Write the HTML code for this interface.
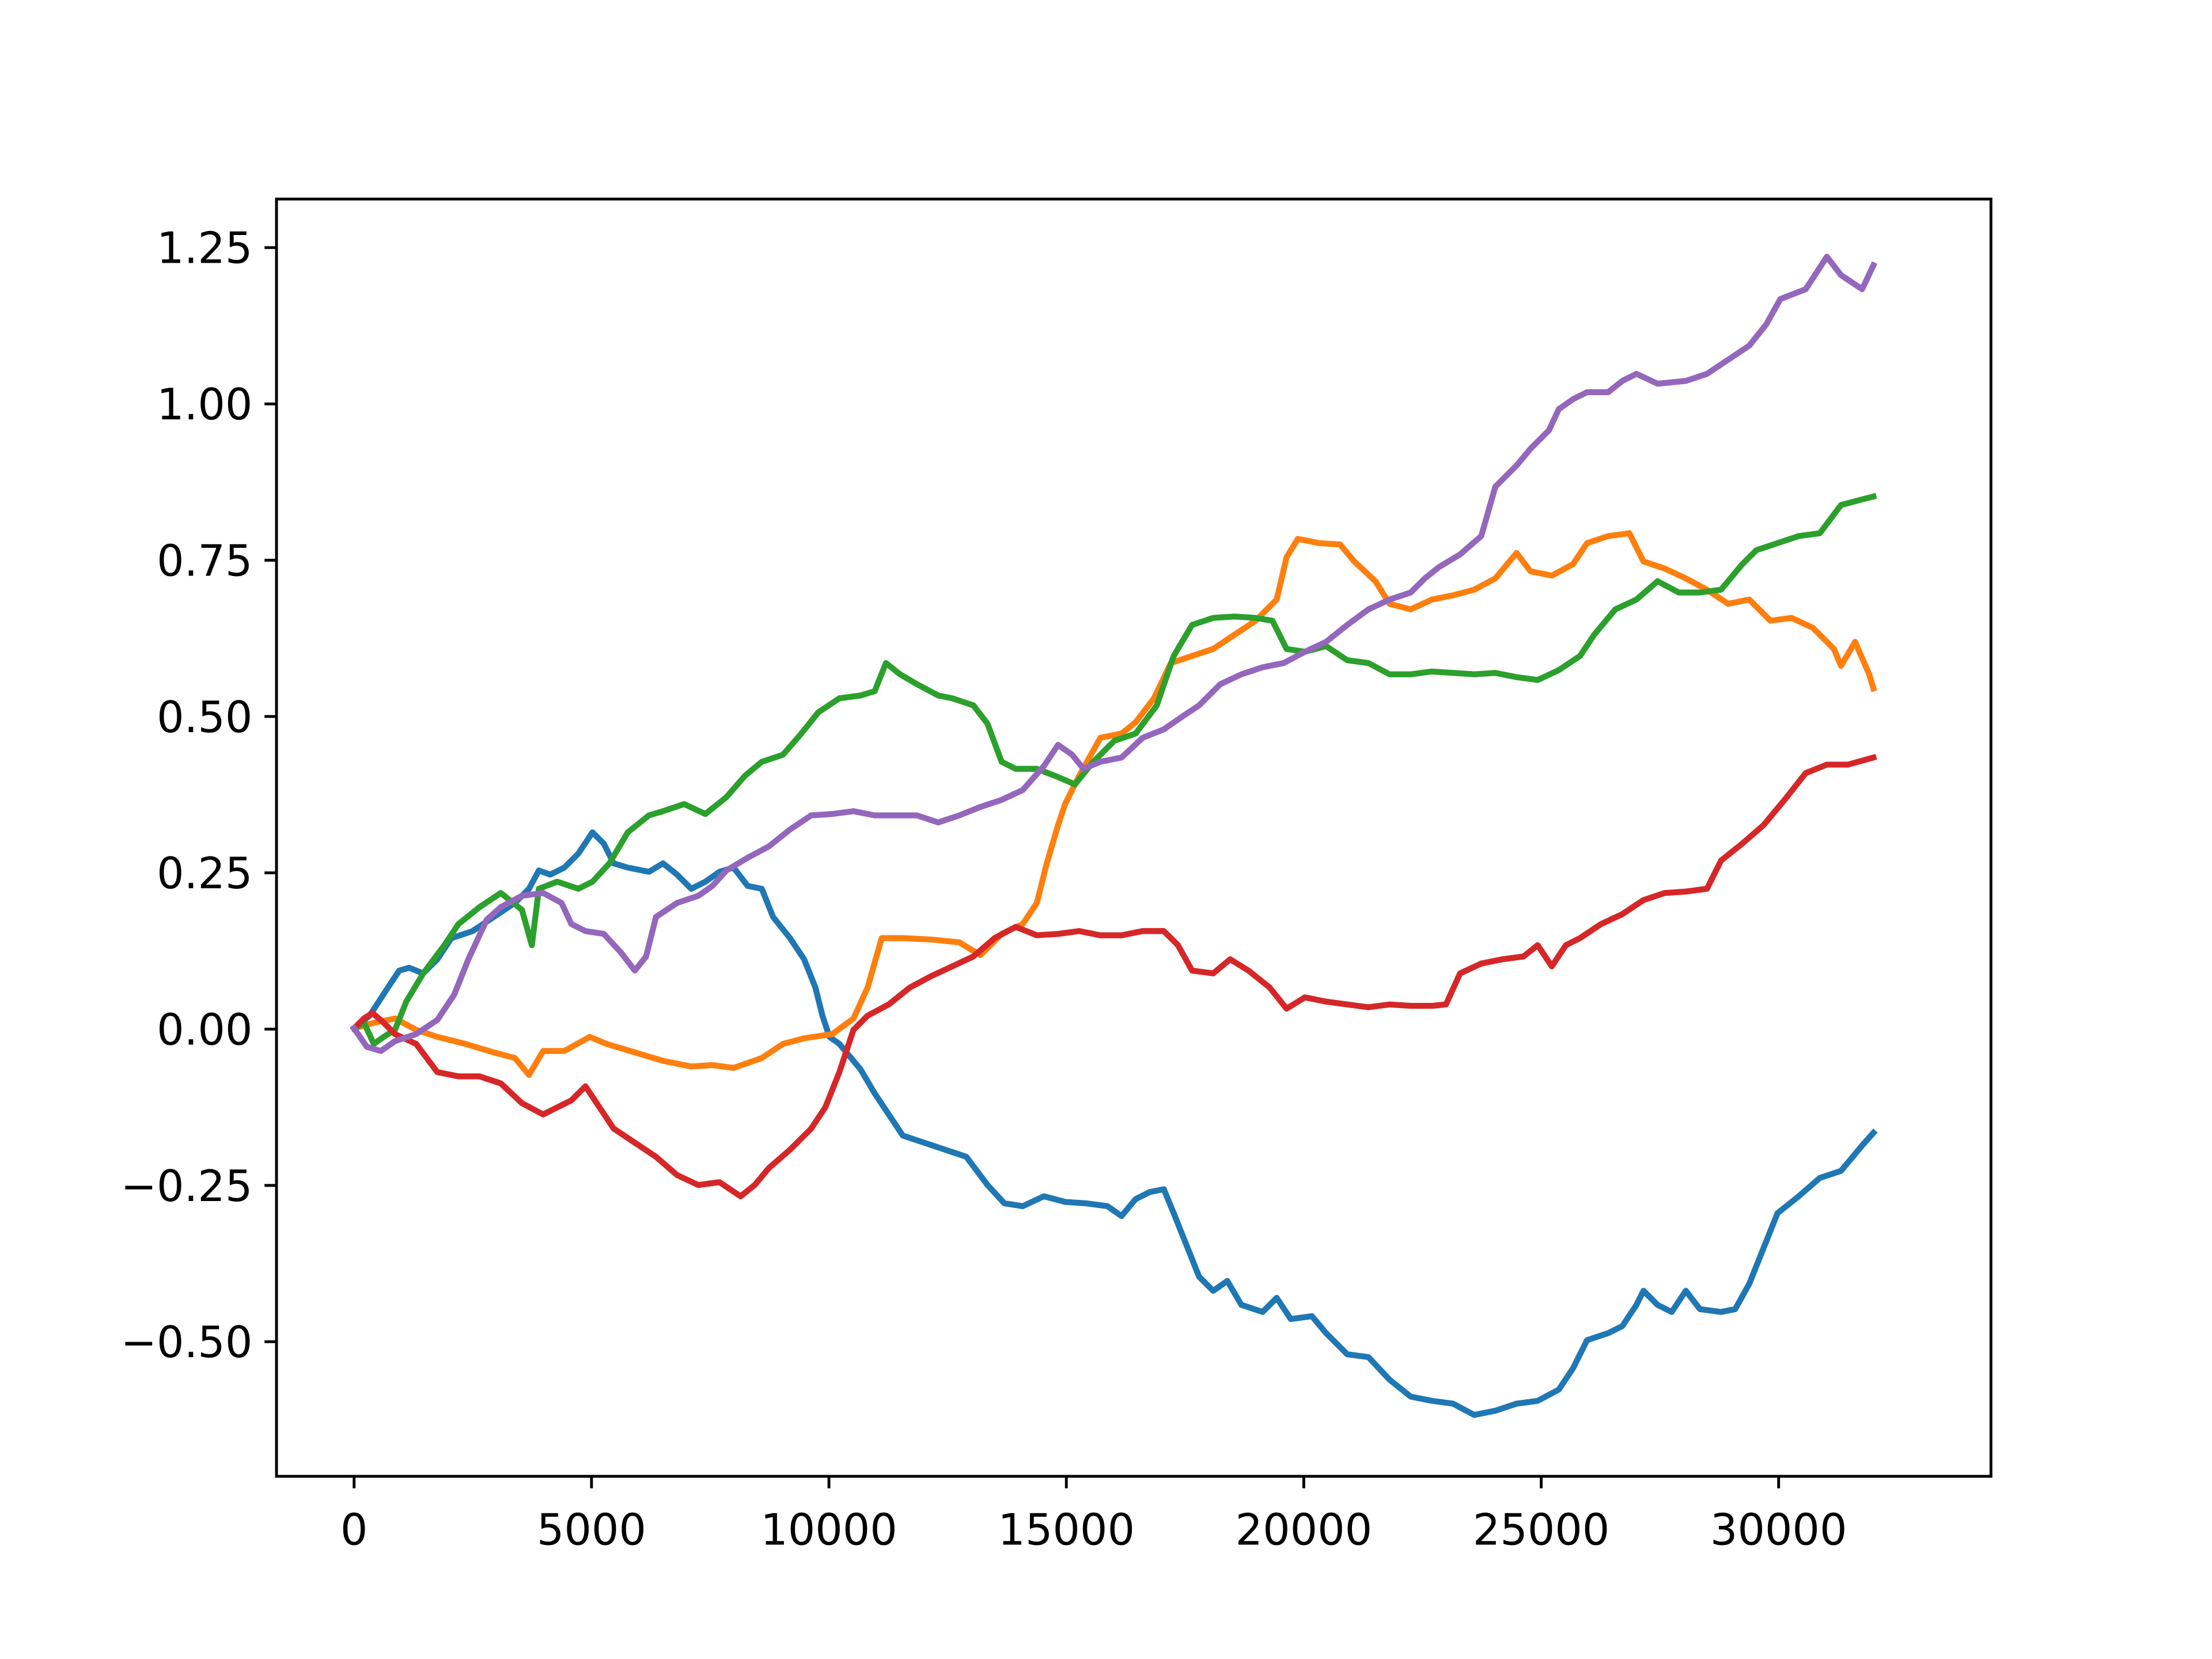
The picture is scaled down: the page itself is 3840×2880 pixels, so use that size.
<!DOCTYPE html>
<html><head><meta charset="utf-8"><style>
html,body{margin:0;padding:0;background:#fff;}
svg{display:block;}
text{font-family:"DejaVu Sans","Liberation Sans",sans-serif;font-size:30.5px;fill:#000;}
</style></head><body>
<svg width="3840" height="2880" viewBox="0 0 1568 1176" xmlns="http://www.w3.org/2000/svg">
<rect width="1568" height="1176" fill="#fff"/>
<g fill="none" stroke-width="4.2" stroke-linejoin="round" stroke-linecap="square">
<polyline stroke="#1f77b4" points="251,729 262,720 275,700 283,688 290,686 300,690 310,680 320,665 335,660 350,650 365,640 375,630 382,617 390,620 400,615 410,605 420,590 428,598 435,612 445,615 460,618 470,612 480,620 490,630 500,625 510,618 520,615 530,628 540,630 548,650 560,665 570,680 578,700 583,720 588,735 595,740 610,758 620,775 630,790 640,805 655,810 670,815 685,820 700,840 712,853 725,855 740,848 755,852 770,853 785,855 795,862 805,850 815,845 825,843 832,860 840,880 850,905 860,915 870,908 880,925 895,930 905,920 915,935 930,933 940,945 955,960 970,962 985,978 1000,990 1015,993 1030,995 1045,1003 1060,1000 1075,995 1090,993 1105,985 1115,970 1125,950 1140,945 1150,940 1160,925 1165,915 1175,925 1185,930 1195,915 1205,928 1220,930 1230,928 1240,910 1250,885 1260,860 1275,848 1290,835 1305,830 1320,812 1328,803"/>
<polyline stroke="#ff7f0e" points="251,729 265,725 280,722 295,730 310,735 330,740 350,746 365,750 375,762 385,745 400,745 418,735 430,740 450,746 470,752 490,756 505,755 520,757 540,750 555,740 570,736 590,733 605,722 615,700 625,665 640,665 660,666 680,668 695,677 710,662 725,655 735,640 742,612 750,585 755,570 765,550 780,523 795,520 805,512 818,495 830,470 845,465 860,460 875,450 890,440 905,425 912,395 920,382 935,385 950,386 960,398 975,412 985,428 1000,432 1015,425 1030,422 1045,418 1060,410 1075,392 1085,405 1100,408 1115,400 1125,385 1140,380 1155,378 1165,398 1180,403 1195,410 1210,418 1225,428 1240,425 1255,440 1270,438 1285,445 1300,460 1305,472 1315,455 1325,478 1328,488"/>
<polyline stroke="#2ca02c" points="251,729 258,725 265,740 272,735 280,730 288,710 300,690 315,670 325,655 340,643 355,633 370,645 377,670 382,630 395,625 410,630 420,625 432,612 445,590 460,578 470,575 485,570 500,577 515,565 528,550 540,540 555,535 568,520 580,505 595,495 610,493 620,490 628,470 638,478 650,485 665,493 675,495 690,500 700,513 710,540 720,545 735,545 748,550 762,556 775,540 790,525 805,520 820,500 832,465 845,443 860,438 875,437 890,438 902,440 912,460 925,462 940,458 955,468 970,470 985,478 1000,478 1015,476 1030,477 1045,478 1060,477 1075,480 1090,482 1105,475 1120,465 1130,450 1145,432 1160,425 1175,412 1190,420 1205,420 1220,418 1235,400 1245,390 1260,385 1275,380 1290,378 1305,358 1320,354 1328,352"/>
<polyline stroke="#d62728" points="251,729 258,722 264,718 272,725 280,733 295,740 310,760 325,763 340,763 355,768 370,782 385,790 395,785 405,780 415,770 425,785 435,800 450,810 465,820 480,833 495,840 510,838 525,848 535,840 545,828 560,815 575,800 585,785 595,760 605,730 615,720 630,712 645,700 660,692 675,685 690,678 705,665 720,657 735,663 750,662 765,660 780,663 795,663 810,660 825,660 835,670 845,688 860,690 872,680 885,688 900,700 912,715 925,707 940,710 955,712 970,714 985,712 1000,713 1015,713 1025,712 1035,690 1050,683 1065,680 1080,678 1090,670 1100,685 1110,670 1120,665 1135,655 1150,648 1165,638 1180,633 1195,632 1210,630 1220,610 1235,598 1250,585 1265,567 1280,548 1295,542 1310,542 1328,537"/>
<polyline stroke="#9467bd" points="251,729 260,742 270,745 280,738 295,733 310,723 322,705 332,680 345,652 355,643 370,635 385,633 398,640 405,655 415,660 428,662 440,675 450,688 458,678 465,650 480,640 495,635 505,628 515,617 530,608 545,600 560,588 575,578 590,577 605,575 620,578 635,578 650,578 665,583 680,578 695,572 710,567 725,560 740,543 750,528 760,535 768,545 780,540 795,537 810,523 825,517 838,508 850,500 865,485 880,478 895,473 910,470 925,462 940,455 955,443 970,432 985,425 1000,420 1010,410 1020,402 1035,393 1050,380 1060,345 1075,330 1085,318 1098,305 1105,290 1115,283 1125,278 1140,278 1150,270 1160,265 1175,272 1195,270 1210,265 1225,255 1240,245 1252,230 1262,212 1280,205 1295,182 1305,195 1320,205 1328,188"/>
</g>
<rect x="196" y="141.1" width="1215.3" height="905.4" fill="none" stroke="#000" stroke-width="2"/>
<g stroke="#000" stroke-width="2">
<line x1="251" y1="1046.5" x2="251" y2="1055"/>
<line x1="419.3" y1="1046.5" x2="419.3" y2="1055"/>
<line x1="587.6" y1="1046.5" x2="587.6" y2="1055"/>
<line x1="755.9" y1="1046.5" x2="755.9" y2="1055"/>
<line x1="924.2" y1="1046.5" x2="924.2" y2="1055"/>
<line x1="1092.5" y1="1046.5" x2="1092.5" y2="1055"/>
<line x1="1260.8" y1="1046.5" x2="1260.8" y2="1055"/>
<line x1="187.5" y1="175.5" x2="196" y2="175.5"/>
<line x1="187.5" y1="286.3" x2="196" y2="286.3"/>
<line x1="187.5" y1="397.1" x2="196" y2="397.1"/>
<line x1="187.5" y1="507.9" x2="196" y2="507.9"/>
<line x1="187.5" y1="618.7" x2="196" y2="618.7"/>
<line x1="187.5" y1="729.5" x2="196" y2="729.5"/>
<line x1="187.5" y1="840.3" x2="196" y2="840.3"/>
<line x1="187.5" y1="951.1" x2="196" y2="951.1"/>
</g>
<g text-anchor="middle">
<text x="251" y="1095">0</text>
<text x="419.3" y="1095">5000</text>
<text x="587.6" y="1095">10000</text>
<text x="755.9" y="1095">15000</text>
<text x="924.2" y="1095">20000</text>
<text x="1092.5" y="1095">25000</text>
<text x="1260.8" y="1095">30000</text>
</g>
<g text-anchor="end">
<text x="179" y="186.5">1.25</text>
<text x="179" y="297.3">1.00</text>
<text x="179" y="408.1">0.75</text>
<text x="179" y="518.9">0.50</text>
<text x="179" y="629.7">0.25</text>
<text x="179" y="740.5">0.00</text>
<text x="179" y="851.3">−0.25</text>
<text x="179" y="962.1">−0.50</text>
</g>
</svg>
</body></html>
